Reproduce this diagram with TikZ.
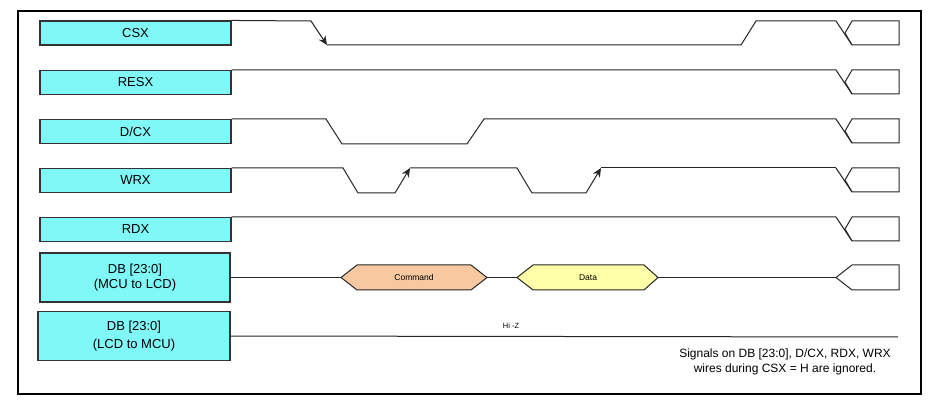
\documentclass[tikz,border=0pt]{standalone}
\usepackage{fontspec}
\usetikzlibrary{arrows.meta}
\setmainfont{Liberation Sans}
\definecolor{lbl}{HTML}{80F8F8}
\definecolor{cmdc}{HTML}{F8C8A0}
\definecolor{datc}{HTML}{FFFFA8}
\begin{document}
\begin{tikzpicture}[x=1pt,y=-1pt,
  lab/.style={draw=black!80,fill=lbl,line width=1.1pt,font=\fontsize{13}{15.5}\selectfont,align=center,inner sep=0pt},
  sig/.style={line width=1pt,black!85},
  arr/.style={sig,-{Stealth[length=9pt,width=8pt]}}]
\useasboundingbox (0,0) rectangle (935,406);
\draw[line width=1.4pt] (18,11) rectangle (921,394);
% labels
\node[lab,minimum width=191pt,minimum height=24pt] (csx) at (135.5,33) {CSX};
\node[lab,minimum width=191pt,minimum height=24pt] (resx) at (135.5,82.5) {RESX};
\node[lab,minimum width=191pt,minimum height=24pt] (dcx) at (135.5,131.5) {D/CX};
\node[lab,minimum width=191pt,minimum height=24pt] (wrx) at (135.5,180.5) {WRX};
\node[lab,minimum width=191pt,minimum height=24pt] (rdx) at (135.5,229.5) {RDX};
\node[lab,minimum width=190pt,minimum height=49pt] (dbw) at (135,277.5) {DB [23:0]\\(MCU to LCD)};
\node[lab,minimum width=192pt,minimum height=49pt] (dbr) at (134,336) {DB [23:0]\\[3pt](LCD to MCU)};
% end boxes
\foreach \y in {21,70,119,168,217}{
  \draw[sig] (836,\y) -- (852,\y+24);
  \draw[sig] (852,\y) -- (845,\y+12) -- (852,\y+24) -- (899,\y+24) -- (899,\y) -- cycle;
}
% CSX
\draw[arr] (csx.north east) -- (311,21) -- (327,45);
\draw[sig] (327,45) -- (741,45) -- (756,21) -- (836,21);
% RESX
\draw[sig] (resx.north east) -- (836,70);
% DCX
\draw[sig] (dcx.north east) -- (326,119) -- (342,144) -- (467,144) -- (484,119) -- (836,119);
% WRX
\draw[sig] (wrx.north east) -- (343,168) -- (358,193) -- (395,193);
\draw[arr] (395,193) -- (410,168);
\draw[sig] (410,168) -- (517,168) -- (532,193) -- (586,193);
\draw[arr] (586,193) -- (601,168);
\draw[sig] (601,168) -- (836,168);
% RDX
\draw[sig] (rdx.north east) -- (836,217);
% DB write
\draw[sig,fill=cmdc] (341,277.5) -- (357,265) -- (471,265) -- (487,277.5) -- (471,290) -- (357,290) -- cycle;
\node[font=\fontsize{8.5}{10}\selectfont] (cmd) at (414,277.5) {Command};
\draw[sig,fill=datc] (517,277.5) -- (533,265) -- (644,265) -- (658,277.5) -- (644,290) -- (533,290) -- cycle;
\node[font=\fontsize{8.5}{10}\selectfont] (dat) at (588,277.5) {Data};
\draw[sig] (dbw.east) -- (341,277.5);
\draw[sig] (487,277.5) -- (517,277.5);
\draw[sig] (658,277.5) -- (836,277.5);
\draw[sig] (836,277.5) -- (852,265) -- (899,265) -- (899,290) -- (852,290) -- cycle;
% DB read
\draw[sig] (dbr.east) -- (898,337);
\node[font=\fontsize{7.5}{9}\selectfont] (hiz) at (511,326) {Hi -Z};
\node[font=\fontsize{12}{15}\selectfont,align=center] (note) at (785,362) {Signals on DB [23:0], D/CX, RDX, WRX\\wires during CSX = H are ignored.};
\end{tikzpicture}
\end{document}
